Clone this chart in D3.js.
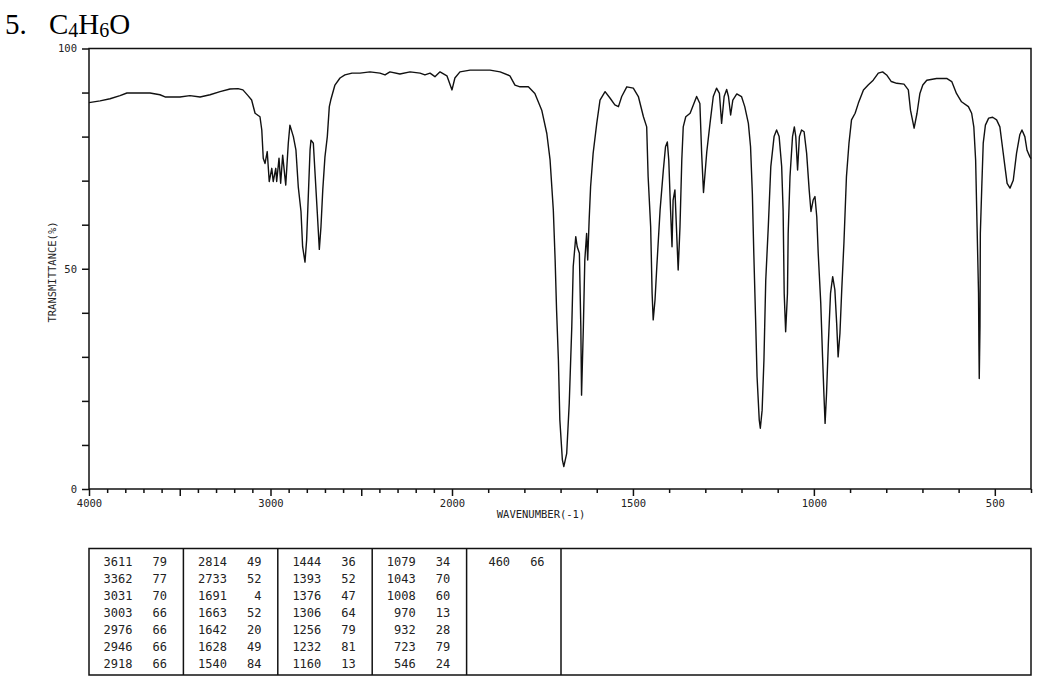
<!DOCTYPE html>
<html lang="en">
<head>
    <meta charset="UTF-8">
    <title>IR spectrum C4H6O</title>
    <script src="https://d3js.org/d3.v7.min.js"></script>
    <style>
        body {
            margin: 0;
            padding: 0;
            background: #fff;
        }
        .axis text {
            font-family: "DejaVu Sans Mono", monospace;
            font-size: 10.5px;
            fill: #222;
        }
        .axis line, .axis path {
            stroke: #111;
            stroke-width: 1.5;
        }
        .lbl {
            font-family: "DejaVu Sans Mono", monospace;
            font-size: 10.5px;
            fill: #222;
        }
        .tbl {
            font-family: "DejaVu Sans Mono", monospace;
            font-size: 12px;
            fill: #222;
        }
    </style>
</head>
<body>
<svg width="1050" height="694"></svg>

<script>
    // spectrum (wavenumber cm-1 / transmittance %)
    const wavenumbers = [4000, 3939, 3884, 3829, 3791, 3664, 3609, 3581, 3499, 3444, 3388, 3333, 3278, 3223, 3179, 3152, 3124,
        3104, 3085, 3058, 3048, 3040, 3030, 3018, 3007, 2993, 2985, 2971, 2966, 2953, 2944, 2933, 2916, 2902, 2893, 2874,
        2860, 2847, 2832, 2823, 2810, 2801, 2782, 2777, 2764, 2742, 2731, 2722, 2712, 2700, 2687, 2676, 2668, 2645, 2617,
        2590, 2551, 2507, 2452, 2397, 2369, 2342, 2287, 2231, 2176, 2149, 2121, 2094, 2066, 2028, 2000, 1992, 1978, 1950,
        1923, 1895, 1867, 1840, 1826, 1812, 1789, 1771, 1752, 1738, 1729, 1720, 1715, 1711, 1706, 1702, 1695, 1691, 1683,
        1676, 1669, 1665, 1658, 1654, 1648, 1644, 1642, 1637, 1633, 1628, 1625, 1621, 1617, 1610, 1600, 1591, 1577, 1563,
        1550, 1540, 1531, 1517, 1499, 1485, 1471, 1462, 1458, 1451, 1447, 1444, 1439, 1434, 1425, 1416, 1410, 1405, 1401,
        1396, 1392, 1389, 1384, 1375, 1370, 1365, 1361, 1354, 1342, 1335, 1324, 1315, 1310, 1305, 1296, 1287, 1278, 1269,
        1261, 1255, 1248, 1241, 1236, 1230, 1224, 1213, 1200, 1191, 1181, 1175, 1170, 1166, 1161, 1157, 1151, 1148, 1143,
        1138, 1133, 1126, 1119, 1110, 1103, 1096, 1089, 1085, 1082, 1078, 1073, 1071, 1066, 1059, 1054, 1050, 1045, 1040,
        1034, 1027, 1020, 1013, 1008, 1002, 997, 992, 988, 981, 976, 972, 969, 965, 960, 954, 948, 942, 937, 933, 928,
        923, 917, 910, 903, 896, 886, 877, 863, 850, 836, 822, 810, 799, 786, 771, 751, 739, 733, 723, 715, 707, 699,
        688, 661, 633, 619, 606, 592, 573, 564, 558, 553, 549, 545, 544, 543, 541, 540, 536, 532, 526, 517, 506, 495,
        486, 479, 472, 466, 458, 449, 440, 431, 425, 417, 411, 403, 400];

    const transmittance = [87.7, 88.1, 88.6, 89.3, 89.9, 89.9, 89.5, 89.0, 89.0, 89.3, 89.0, 89.5, 90.2, 90.8, 90.9, 90.6, 89.3,
        88.3, 85.3, 84.5, 81.5, 75.1, 73.9, 76.6, 69.8, 72.8, 69.8, 72.8, 69.8, 75.1, 69.4, 75.8, 69.0, 78.5, 82.6, 80.0,
        77.0, 68.6, 63.0, 55.0, 51.5, 56.5, 77.0, 79.2, 78.5, 62.6, 54.4, 59.5, 67.9, 75.4, 80.0, 86.8, 88.3, 91.7, 93.3,
        94.0, 94.4, 94.4, 94.7, 94.4, 94.0, 94.7, 94.2, 94.7, 94.4, 94.0, 94.4, 93.6, 94.7, 93.8, 90.6, 93.3, 94.7, 95.1,
        95.1, 95.1, 94.7, 93.8, 91.7, 91.3, 91.3, 89.8, 86.0, 80.7, 74.7, 63.3, 52.0, 40.6, 29.3, 15.7, 6.6, 5.1, 8.1,
        19.5, 36.8, 50.5, 57.3, 55.0, 53.5, 36.8, 21.3, 36.8, 52.0, 58.0, 52.0, 61.1, 68.6, 76.2, 83.0, 88.3, 90.2, 88.7,
        87.2, 86.8, 89.1, 91.3, 91.0, 89.1, 84.5, 82.2, 70.9, 59.5, 44.4, 38.4, 42.9, 50.5, 63.3, 72.4, 77.7, 78.8, 74.7,
        63.3, 55.0, 65.6, 67.9, 49.7, 59.5, 74.7, 82.2, 84.5, 85.3, 86.8, 89.1, 87.5, 76.0, 67.3, 76.5, 83.0, 89.1, 91.0,
        89.8, 83.0, 89.1, 90.7, 89.1, 84.9, 88.3, 89.7, 89.1, 86.8, 83.0, 77.7, 67.1, 53.5, 38.4, 25.5, 15.7, 13.8, 17.9,
        29.3, 47.4, 59.5, 73.2, 80.0, 81.5, 80.0, 73.2, 63.3, 44.4, 35.7, 44.4, 58.0, 70.9, 80.0, 82.2, 80.0, 72.4, 80.0,
        81.5, 81.1, 76.2, 67.9, 63.0, 65.6, 66.4, 61.8, 53.5, 42.2, 30.0, 21.0, 14.9, 21.7, 33.1, 44.4, 48.2, 45.2, 37.6, 30.0, 35.3,
        45.2, 55.8, 70.9, 78.5, 83.8, 85.3, 87.6, 90.6, 91.7, 92.8, 94.4, 94.7, 94.0, 92.5, 92.1, 91.9, 90.6, 86.0, 81.9, 85.3, 89.8, 91.7,
        92.8, 93.2, 93.2, 92.5, 89.8, 87.9, 86.8, 85.3, 82.2, 74.7, 59.5, 44.4, 33.1, 25.1, 36.8, 58.0, 68.6, 78.5, 82.6, 84.2, 84.4, 83.8,
        82.2, 77.7, 73.2, 69.4, 68.3, 70.1, 76.2, 80.4, 81.5, 80.0, 76.9, 75.4, 75.0];

    // peak table
    const peakWavenumbers = [3611, 3362, 3031, 3003, 2976, 2946, 2918,
        2814, 2733, 1691, 1663, 1642, 1628, 1540,
        1444, 1393, 1376, 1306, 1256, 1232, 1160,
        1079, 1043, 1008, 970, 932, 723, 546,
        460];
    const peakIntensities = [79, 77, 70, 66, 66, 66, 66,
        49, 52, 4, 52, 20, 49, 84,
        36, 52, 47, 64, 79, 81, 13,
        34, 70, 60, 13, 28, 79, 24,
        66];

    const xTickLabels = [4000, 3000, 2000, 1500, 1000, 500];
    const yTickLabels = [0, 50, 100];

    const svg = d3.select("svg");

    // wavenumber axis: 4000-2000 at half the scale of 2000-400
    const x = d3.scaleLinear()
        .domain([4000, 2000, 400])
        .range([89, 452, 1031]);

    const y = d3.scaleLinear()
        .domain([0, 100])
        .range([489, 48.5]);

    // title
    const title = svg.append("text")
        .attr("x", 5)
        .attr("y", 34)
        .style("font-family", "'Liberation Serif', 'Times New Roman', serif")
        .style("font-size", "29px")
        .style("fill", "#000");
    title.append("tspan").text("5.");
    title.append("tspan").attr("x", 49).text("C");
    title.append("tspan").attr("dy", 3).style("font-size", "20px").text("4");
    title.append("tspan").attr("dy", -3).text("H");
    title.append("tspan").attr("dy", 3).style("font-size", "20px").text("6");
    title.append("tspan").attr("dy", -3).text("O");

    // frame
    svg.append("rect")
        .attr("x", x(4000))
        .attr("y", y(100))
        .attr("width", x(400) - x(4000))
        .attr("height", y(0) - y(100))
        .attr("fill", "none")
        .attr("stroke", "#111")
        .attr("stroke-width", 1.5);

    // y axis
    const yTicks = d3.range(0, 101, 10);
    svg.append("g")
        .attr("class", "axis")
        .attr("transform", `translate(${x(4000)},0)`)
        .call(d3.axisLeft(y)
            .tickValues(yTicks)
            .tickSize(7)
            .tickSizeOuter(0)
            .tickPadding(5)
            .tickFormat(d => yTickLabels.includes(d) ? d : ""))
        .select(".domain").remove();

    // x axis: minor every 100, major every 500
    const minorTicks = d3.range(4000, 399, -100).filter(d => d % 500 !== 0);
    const majorTicks = d3.range(4000, 399, -500);

    svg.append("g")
        .attr("class", "axis")
        .attr("transform", `translate(0,${y(0)})`)
        .call(d3.axisBottom(x)
            .tickValues(minorTicks)
            .tickSize(4)
            .tickFormat(""))
        .select(".domain").remove();

    svg.append("g")
        .attr("class", "axis")
        .attr("transform", `translate(0,${y(0)})`)
        .call(d3.axisBottom(x)
            .tickValues(majorTicks)
            .tickSize(7)
            .tickPadding(4)
            .tickFormat(d => xTickLabels.includes(d) ? d : ""))
        .select(".domain").remove();

    // axis titles
    svg.append("text")
        .attr("class", "lbl")
        .attr("x", 541)
        .attr("y", 518)
        .attr("text-anchor", "middle")
        .text("WAVENUMBER(-1)");

    svg.append("text")
        .attr("class", "lbl")
        .attr("transform", "translate(56,272) rotate(-90)")
        .attr("text-anchor", "middle")
        .text("TRANSMITTANCE(%)");

    // spectrum
    const spectrum = wavenumbers.map((w, i) => ({ w: w, t: transmittance[i] }));

    const line = d3.line()
        .x(d => x(d.w))
        .y(d => y(d.t));

    svg.append("path")
        .datum(spectrum)
        .attr("d", line)
        .attr("fill", "none")
        .attr("stroke", "#111")
        .attr("stroke-width", 1.4)
        .attr("stroke-linejoin", "round");

    // peak table
    const perCol = 7;
    const colX = d3.scaleLinear().domain([0, 5]).range([89, 561]);
    const rowY = d3.scaleLinear().domain([0, 6]).range([566, 668]);

    svg.append("rect")
        .attr("x", colX(0))
        .attr("y", 548.5)
        .attr("width", 1031 - colX(0))
        .attr("height", 126.5)
        .attr("fill", "none")
        .attr("stroke", "#111")
        .attr("stroke-width", 1.5);

    svg.selectAll(".divider")
        .data(d3.range(1, 6))
        .enter()
        .append("line")
        .attr("class", "divider")
        .attr("x1", d => colX(d))
        .attr("x2", d => colX(d))
        .attr("y1", 548.5)
        .attr("y2", 675)
        .attr("stroke", "#111")
        .attr("stroke-width", 1.5);

    const peaks = peakWavenumbers.map((w, i) => ({
        w: w,
        t: peakIntensities[i],
        col: Math.floor(i / perCol),
        row: i % perCol
    }));

    svg.selectAll(".pw")
        .data(peaks)
        .enter()
        .append("text")
        .attr("class", "tbl")
        .attr("x", d => colX(d.col) + 43.5)
        .attr("y", d => rowY(d.row))
        .attr("text-anchor", "end")
        .text(d => d.w);

    svg.selectAll(".pt")
        .data(peaks)
        .enter()
        .append("text")
        .attr("class", "tbl")
        .attr("x", d => colX(d.col) + 78)
        .attr("y", d => rowY(d.row))
        .attr("text-anchor", "end")
        .text(d => d.t);
</script>
</body>
</html>
